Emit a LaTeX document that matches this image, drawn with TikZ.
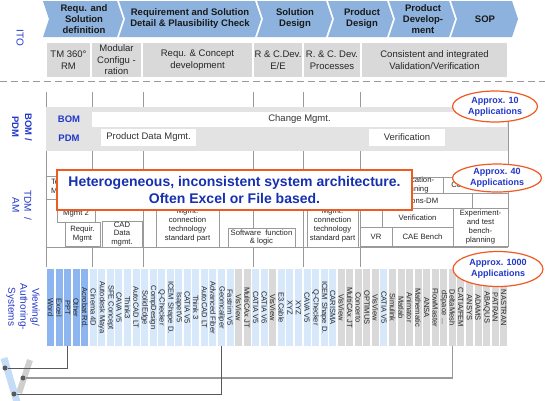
\documentclass[tikz,border=0pt]{standalone}
\usepackage{fontspec}
\setmainfont{Liberation Sans}
\usetikzlibrary{shapes.geometric,positioning}

\definecolor{chevblue}{HTML}{8DB2DD}
\definecolor{boxgrey}{HTML}{D9D9D9}
\definecolor{bandgrey}{HTML}{E3E3E3}
\definecolor{gridgrey}{HTML}{9A9A9A}
\definecolor{labelblue}{HTML}{2238C8}
\definecolor{msgblue}{HTML}{1630B0}
\definecolor{msgorange}{HTML}{F05A22}
\definecolor{dblue}{HTML}{8DB6F0}
\definecolor{lblue}{HTML}{D7E8FB}
\definecolor{sgrey}{HTML}{D9D9D9}
\definecolor{vblue}{HTML}{C5DCF6}
\definecolor{vgrey}{HTML}{CFCFCF}

\tikzstyle{phase} = [align=center, font=\bfseries\fontsize{9.5}{11}\selectfont, text=black!90]
\tikzstyle{greybox} = [rectangle, fill=boxgrey, align=center, inner sep=0pt,
font=\fontsize{9.5}{11.5}\selectfont, text=black!85]
\tikzstyle{whitebar} = [rectangle, fill=white, inner sep=0pt,
font=\fontsize{9.5}{11.5}\selectfont, text=black!80]
\tikzstyle{tbox} = [rectangle, draw=gridgrey, fill=white, line width=0.6pt, align=center,
inner sep=0pt, font=\fontsize{7.7}{8.8}\selectfont, text=black!85]
\tikzstyle{sidelabel} = [rotate=-90, align=center, text=labelblue, font=\fontsize{10}{12}\selectfont]
\tikzstyle{rowlabel} = [text=labelblue, font=\bfseries\fontsize{9.5}{11}\selectfont]
\tikzstyle{msg} = [rectangle, draw=msgorange, line width=1.5pt, fill=white, align=center,
text=msgblue, font=\bfseries\fontsize{14}{17}\selectfont]
\tikzstyle{apps} = [ellipse, draw=msgorange, line width=1.2pt, fill=white, align=center,
inner sep=0pt, text=labelblue, font=\bfseries\fontsize{9}{11}\selectfont]
\tikzstyle{strip} = [rectangle, rotate=-90, minimum width=77pt, minimum height=7pt,
inner sep=0pt, font=\fontsize{7.5}{8}\selectfont, text=black!85]
\tikzstyle{appdot} = [circle, fill=black!65, minimum size=5pt, inner sep=0pt]
\tikzstyle{gridline} = [draw=gridgrey, line width=0.8pt]
\tikzstyle{wire} = [draw=black!65, line width=0.8pt]

\begin{document}
\begin{tikzpicture}[x=1pt, y=-1pt]
\useasboundingbox (0,0) rectangle (545,400);

% Phases
\foreach \l/\r in {49/123,125/261,263/332,334/393,395/455,457/518}
  \fill[chevblue] (\l-6,1) -- (\r-6,1) -- (\r,19) -- (\r-6,37) -- (\l-6,37) -- (\l,19) -- cycle;
\node [phase] (reqdef) at (84,19) {Requ. and\\Solution\\definition};
\node [phase] (reqdet) at (190,19) {Requirement and Solution\\Detail \& Plausibility Check};
\node [phase] (soldes) at (295,19) {Solution\\Design};
\node [phase] (proddes) at (362,19) {Product\\Design};
\node [phase] (proddev) at (423,19) {Product\\Develop-\\ment};
\node [phase] (sop) at (485,19) {SOP};

% ITO row
\node [greybox, minimum width=43pt, minimum height=34pt] (tm) at (68.5,60) {TM 360°\\RM};
\node [greybox, minimum width=49pt, minimum height=34pt] (modconf) at (116.5,60) {Modular\\Configu -\\ration};
\node [greybox, minimum width=109pt, minimum height=34pt] (reqcon) at (197.5,60) {Requ. \& Concept\\development};
\node [greybox, minimum width=48pt, minimum height=34pt] (rcee) at (278,60) {R \& C.Dev.\\E/E};
\node [greybox, minimum width=56pt, minimum height=34pt] (rcproc) at (332,60) {R. \& C. Dev.\\Processes};
\node [greybox, minimum width=145pt, minimum height=34pt] (valver) at (434.5,60) {Consistent and integrated\\Validation/Verification};
\draw [gridgrey, dashed, dash pattern=on 7pt off 4pt, line width=0.9pt] (0,81) -- (545,81);

% Side labels
\node [sidelabel] (ito) at (20,38) {ITO};
\node [sidelabel, font=\bfseries\fontsize{9.5}{13}\selectfont] (bompdm) at (22,127) {BOM /\\PDM};
\node [sidelabel] (tdmam) at (22,205) {TDM \ /\\AM};
\node [sidelabel] (viewing) at (23,307) {Viewing/\\Authoring-\\Systems};

% Grid
\foreach \x in {46,92,143,253,303,360}
  \path [gridline] (\x,92) -- (\x,267);
\path [gridline] (508,107) -- (508,247);
\path [gridline] (46,247) -- (508,247);

% BOM / PDM
\fill [bandgrey] (46,107) rectangle (508,151);
\node [rowlabel] (bom) at (69,119) {BOM};
\node [rowlabel] (pdm) at (69,138) {PDM};
\node [whitebar, minimum width=415pt, minimum height=15pt] (change) at (299.5,119.5) {Change Mgmt.};
\node [whitebar, minimum width=95pt, minimum height=17pt] (pdmgmt) at (148.5,137) {Product Data Mgmt.};
\node [whitebar, minimum width=76pt, minimum height=17pt] (verif) at (407,137) {Verification};

% TDM / AM
\node [tbox, minimum width=84pt, minimum height=23pt, align=left, text width=74pt] (testmgmt) at (88,187.5) {Test\\Mgmt 1};
\node [tbox, minimum width=38pt, minimum height=16pt] (mgmt2) at (76,214) {Mgmt 2};
\node [tbox, minimum width=35pt, minimum height=24pt] (requir) at (82.5,234) {Requir.\\Mgmt};
\node [tbox, minimum width=40pt, minimum height=26pt] (cad) at (122,234) {CAD\\Data\\mgmt.};
\node [tbox, minimum width=63pt, minimum height=44pt] (conn1) at (187.5,225) {Mgmt.\\connection\\technology\\standard part};
\node [tbox, minimum width=67pt, minimum height=19pt] (software) at (261.5,237.5) {Software \ function\\\& logic};
\node [tbox, minimum width=51pt, minimum height=44pt] (conn2) at (332.5,225) {Mgmt.\\connection\\technology\\standard part};
\node [tbox, minimum width=122pt, minimum height=15pt] (simdm) at (411,200.5) {Simulations-DM};
\node [tbox, minimum width=58pt, minimum height=16pt] (verplan) at (414,185) {Verification-\\planning};
\node [tbox, minimum width=65pt, minimum height=16pt] (cosim) at (475.5,185) {Co-Simulation};
\node [tbox, minimum width=71pt, minimum height=19pt] (verif2) at (417.5,217.5) {Verification};
\node [tbox, minimum width=32pt, minimum height=19pt] (vr) at (376,236.5) {VR};
\node [tbox, minimum width=61pt, minimum height=19pt] (cae) at (422.5,236.5) {CAE Bench};
\node [tbox, minimum width=55pt, minimum height=38pt] (bench) at (480.5,227) {Experiment-\\and test\\bench-\\planning};
\node [msg, minimum width=355pt, minimum height=40pt] (hetero) at (234.5,190)
  {Heterogeneous, inconsistent system architecture.\\Often Excel or File based.};

% Viewing / Authoring
\foreach \name/\col [count=\i] in {Word/dblue, Excel/dblue, PPT/dblue, Other/dblue, Acrobat Rd./dblue,
  Cinema 4D/lblue, Autodesk Maya/lblue, SFE Concept/lblue, CAVA V5/lblue, Think3/lblue,
  AutoCAD LT/lblue, SolidEdge/lblue, CompDesign/lblue, Q-Checker/lblue, ICEM Shape D./lblue,
  IsapetV5/lblue, CATIA V5/lblue, Think 3/lblue, AutoCAD LT/lblue, Advanced Fiber/lblue,
  Geomcaliper/lblue, Fastrim V5/lblue, VisView/sgrey, MultiCAx JT/sgrey, CATIA V5/lblue,
  CATIA V6/lblue, VisView/sgrey, E3.Cable/lblue, XYZ/lblue, XYZ/lblue,
  CAVA V5/lblue, Q-Checker/lblue, ICEM Shape D./lblue, CARISMA/lblue, VisView/sgrey,
  MultiCAx JT/sgrey, Concerto/sgrey, OPTIMUS/sgrey, VisView/sgrey, CATIA V5/lblue,
  Simulink/sgrey, Matlab/sgrey, Animator/sgrey, Mathematic/sgrey, ANSA/sgrey,
  FlowMaster/sgrey, {dSpace .{}.{}.}/sgrey, DeltaMesh/sgrey, {CATIA/FEM}/sgrey, ANSYS/sgrey,
  ADAMS/sgrey, ABAQUS/sgrey, PATRAN/sgrey, NASTRAN/sgrey}
  \node [strip, fill=\col] (app\i) at ({50.5+(\i-1)*8.55},307.5) {\name};

% Application counts
\node [apps, minimum width=85pt, minimum height=31pt] (approx10) at (495,106.5) {Approx. 10\\Applications};
\node [apps, minimum width=89pt, minimum height=28pt] (approx40) at (497,178) {Approx. 40\\Applications};
\node [apps, minimum width=90pt, minimum height=35pt] (approx1000) at (498,269) {Approx. 1000\\Applications};

% V and links
\draw [vgrey, line width=6pt] (30,360) -- (19,393);
\draw [vblue, line width=7pt] (4,358) -- (17,402);
\node [appdot] (vd1) at (5,368) {};
\node [appdot] (vd2) at (23,378) {};
\node [appdot] (vd3) at (14,394) {};
\path [wire] (vd1) -| (app3.east);
\path [draw=black!40, line width=1.6pt] (vd2) -| (app48.east);
\path [wire] (vd3) -| (app21.east);
\end{tikzpicture}
\end{document}
